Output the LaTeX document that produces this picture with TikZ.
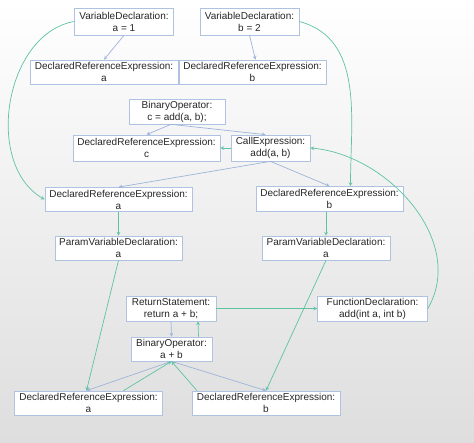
\documentclass[tikz,border=0pt]{standalone}
\usepackage{fontspec}
\setmainfont{Liberation Sans}
\usetikzlibrary{arrows, positioning}
\definecolor{boxline}{HTML}{AFC2E0}
\definecolor{bluearr}{HTML}{9DB4DA}
\definecolor{greenarr}{HTML}{5EC3A2}
\begin{document}
\begin{tikzpicture}[x=1pt, y=1pt]
		\tikzstyle{Node} = [rectangle, minimum height=25pt, inner sep=0pt, align=center, text centered, draw=boxline, fill=white, line width=0.7pt, font=\fontsize{10}{12}\selectfont, text=black!85]
		\tikzstyle{blue} = [line width=0.7pt, draw=bluearr, ->, >=stealth]
		\tikzstyle{green} = [line width=0.7pt, draw=greenarr, ->, >=stealth]
		
		\shade [top color=white, bottom color=black!13] (0,0) rectangle (474,442);
		\useasboundingbox (0,0) rectangle (474,442);
		
		\node (va) [Node, minimum width=99pt, minimum height=27pt] at (124,420.5) {VariableDeclaration:\\a = 1};
		\node (vb) [Node, minimum width=99pt, minimum height=27pt] at (249.5,420.5) {VariableDeclaration:\\b = 2};
		\node (dra1) [Node, minimum width=148pt, minimum height=24pt] at (104,370) {DeclaredReferenceExpression:\\a};
		\node (drb1) [Node, minimum width=147pt, minimum height=24pt] at (252.5,370) {DeclaredReferenceExpression:\\b};
		
		\node (bop1) [Node, minimum width=96pt] at (177,330.5) {BinaryOperator:\\c = add(a, b);};
		\node (drc) [Node, minimum width=147pt, minimum height=26pt] at (146.5,294) {DeclaredReferenceExpression:\\c};
		\node (call) [Node, minimum width=79pt, minimum height=26pt] at (270.5,294) {CallExpression:\\add(a, b)};
		
		\node (dra2) [Node, minimum width=147pt, minimum height=24pt] at (118.5,242.5) {DeclaredReferenceExpression:\\a};
		\node (drb2) [Node, minimum width=147pt] at (329.5,243) {DeclaredReferenceExpression:\\b};
		\node (pva) [Node, minimum width=127pt, minimum height=24pt] at (118.5,194) {ParamVariableDeclaration:\\a};
		\node (pvb) [Node, minimum width=128pt, minimum height=24pt] at (326,194) {ParamVariableDeclaration:\\a};
		
		\node (ret) [Node, minimum width=90pt] at (171,133.5) {ReturnStatement:\\return a + b;};
		\node (fun) [Node, minimum width=110pt] at (372.5,133.5) {FunctionDeclaration:\\add(int a, int b)};
		\node (bop2) [Node, minimum width=81pt, minimum height=24pt] at (171.5,93) {BinaryOperator:\\a + b};
		\node (dra3) [Node, minimum width=148pt, minimum height=24pt] at (88.5,39) {DeclaredReferenceExpression:\\a};
		\node (drb3) [Node, minimum width=148pt, minimum height=24pt] at (266,39) {DeclaredReferenceExpression:\\b};
		
		% tree edges
		\draw [blue] (va.south) -- (dra1.north);
		\draw [blue] (vb.south) -- ([xshift=3pt]drb1.north);
		\draw [blue] ([xshift=-6pt]bop1.south) -- (drc.north);
		\draw [blue] ([xshift=-6pt]bop1.south) -- ([xshift=-5pt]call.north);
		\draw [blue] (call.south) -- (dra2.north);
		\draw [blue] (call.south) -- (drb2.north);
		\draw [blue] (ret.south) -- (bop2.north);
		\draw [blue] (bop2.south) -- ([xshift=-2pt]dra3.north);
		\draw [blue] (bop2.south) -- (drb3.north);
		
		% data flow
		\draw [green] (va.west) to [out=190, in=150] (dra2.west);
		\draw [green] (vb.east) to [out=-15, in=90] ([xshift=21pt]drb2.north);
		\draw [green] (call.west) -- (drc.east);
		\draw [green] (fun.east) to [out=60, in=-5] (call.east);
		\draw [green] (dra2.south) -- (pva.north);
		\draw [green] (drb2.south -| pvb.north) -- (pvb.north);
		\draw [green] (pva.south) -- ([xshift=-2pt]dra3.north);
		\draw [green] (pvb.south) -- (drb3.north);
		\draw [green] (ret.east) -- (fun.west);
		\draw [green] ([xshift=27pt]bop2.north) -- ([xshift=27pt]ret.south);
		\draw [green] ([xshift=35pt]dra3.north) -- (bop2.south);
		\draw [green] ([xshift=-69pt]drb3.north) -- (bop2.south);
\end{tikzpicture}
\end{document}
